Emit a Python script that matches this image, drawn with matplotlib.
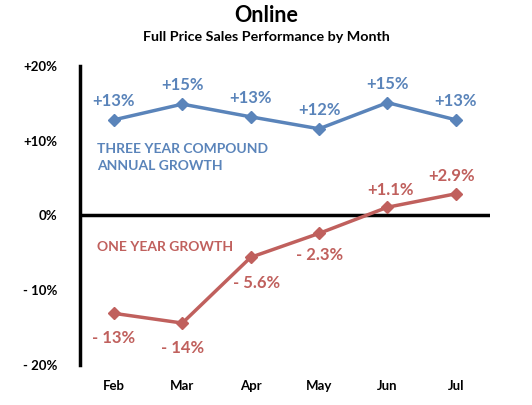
import numpy as np
import matplotlib
matplotlib.use("Agg")
import matplotlib.pyplot as plt

plt.rcParams['font.family'] = ['Lato', 'DejaVu Sans']

months = ['Feb', 'Mar', 'Apr', 'May', 'Jun', 'Jul']
three_year = [12.8, 14.9, 13.2, 11.6, 15.1, 12.8]
three_year_labels = ['+13%', '+15%', '+13%', '+12%', '+15%', '+13%']
one_year = [-13.1, -14.4, -5.6, -2.4, 1.1, 2.9]
one_year_labels = ['- 13%', '- 14%', '- 5.6%', '- 2.3%', '+1.1%', '+2.9%']
yticks = [20, 10, 0, -10, -20]
ytick_labels = ['+20%', '+10%', '0%', '- 10%', '- 20%']

blue = '#5A84BA'
red = '#C0605D'

fig = plt.figure(figsize=(5.32, 4.05), dpi=100)
ax = fig.add_axes([0.150, 0.099, 0.771, 0.738])
x = np.arange(len(months))

ax.plot(x, three_year, color=blue, lw=2.5, marker='D', ms=6, zorder=3)
ax.plot(x, one_year, color=red, lw=2.5, marker='D', ms=6, zorder=3)
ax.axhline(0, color='black', lw=2.5, zorder=2)

for i, lab in enumerate(three_year_labels):
    ax.annotate(lab, (x[i], three_year[i]), xytext=(0, 8), textcoords='offset points',
                ha='center', va='bottom', color=blue, fontsize=12, fontweight='bold')

# red label offsets (points)
red_offsets = [(0, -12), (0, -12), (4, -13), (0, -10), (2, 7), (-3, 7)]
red_va = ['top', 'top', 'top', 'top', 'bottom', 'bottom']
for i, lab in enumerate(one_year_labels):
    ax.annotate(lab, (x[i], one_year[i]), xytext=red_offsets[i], textcoords='offset points',
                ha='center', va=red_va[i], color=red, fontsize=12, fontweight='bold')

ax.text(-0.25, 7.8, 'THREE YEAR COMPOUND\nANNUAL GROWTH', color=blue, fontsize=10,
        fontweight='bold', ha='left', va='center', linespacing=1.5)
ax.text(-0.25, -4.2, 'ONE YEAR GROWTH', color=red, fontsize=10,
        fontweight='bold', ha='left', va='center')

ax.set_xlim(-0.5, 5.5)
ax.set_ylim(-20, 20)
ax.set_xticks(x)
ax.set_xticklabels(months, fontsize=9.5, fontweight='bold')
ax.set_yticks(yticks)
ax.set_yticklabels(ytick_labels, fontsize=9.5, fontweight='bold')
ax.tick_params(length=0)
ax.tick_params(axis='x', pad=11)
ax.tick_params(axis='y', pad=16)
for s in ['top', 'right', 'bottom']:
    ax.spines[s].set_visible(False)
ax.spines['left'].set_linewidth(2.5)

fig.text(0.5, 0.962, 'Online', ha='center', va='center', fontsize=15.5, fontweight='bold')
fig.text(0.5, 0.908, 'Full Price Sales Performance by Month', ha='center', va='center',
         fontsize=10.3, fontweight='bold')

fig.savefig('out.png', dpi=100, facecolor='white')
